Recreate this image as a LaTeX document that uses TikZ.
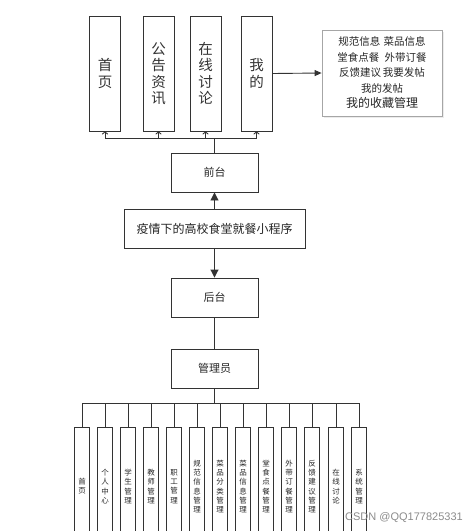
\documentclass[tikz,border=0pt]{standalone}
\usepackage{fontspec}
\setmainfont{Noto Sans CJK SC}
\newfontfamily\wmfont{Liberation Sans}
\usetikzlibrary{arrows.meta,shadows}
\begin{document}
\begin{tikzpicture}[x=1pt,y=-1pt]
\tikzset{
 box/.style={draw=black!80, line width=0.9pt, fill=white, inner sep=0pt},
 topbox/.style={box, minimum width=31pt, minimum height=115pt, font=\fontsize{14.5}{16.5}\selectfont, align=center, text=black!80},
 midbox/.style={box, minimum width=87pt, minimum height=39pt, font=\fontsize{11}{13}\selectfont, text=black!85},
 botbox/.style={box, minimum width=15pt, minimum height=118pt, anchor=north, font=\fontsize{7.5}{9.3}\selectfont, align=center, text=black!85},
 conn/.style={draw=black!80, line width=0.9pt},
 small/.style={-{To[length=3pt,width=6pt]}},
 big/.style={-{Triangle[length=8pt,width=8pt]}},
}
\useasboundingbox (0,0) rectangle (474,531);
\clip (0,0) rectangle (474,531);
\fill[white] (0,0) rectangle (474,531);
% top boxes
\node[topbox] (t1) at (105,73.5) {首\\页};
\node[topbox] (t2) at (158.5,73.5) {公\\告\\资\\讯};
\node[topbox] (t3) at (205.5,73.5) {在\\线\\讨\\论};
\node[topbox] (t4) at (256.5,73.5) {我\\的};
% right info box
\node[draw=black!35, line width=0.8pt, fill=white, minimum width=120pt, minimum height=86pt, align=center, inner sep=0pt,
  drop shadow={opacity=0.15, shadow xshift=1.5pt, shadow yshift=-1.5pt},
  font=\fontsize{10.5}{15.5}\selectfont, text=black!85] (info) at (382,73)
  {规范信息\,\,菜品信息\\堂食点餐\,\,\,外带订餐\\反馈建议\,我要发帖\\我的发帖\\{\fontsize{12}{16.5}\selectfont 我的收藏管理}};
% middle boxes
\node[midbox] (front) at (214.5,172.5) {前台};
\node[midbox, minimum width=181pt, font=\fontsize{12}{14}\selectfont] (main) at (214.5,228.5) {疫情下的高校食堂就餐小程序};
\node[midbox] (back) at (214.5,297.5) {后台};
\node[midbox] (admin) at (214.5,368.5) {管理员};
% top bus
\coordinate (tb) at (214.5,138);
\draw[conn] (front.north) -- (tb);
\draw[conn] (t1.south |- tb) -- (t4.south |- tb);
\foreach \n in {t1,t2,t3,t4} \draw[conn, small] (\n.south |- tb) -- (\n.south);
\draw[conn, -{Triangle[length=7pt,width=6pt]}] (t4.east) -- (info.west);
% main arrows
\draw[conn, big] (main.north) -- (front.south);
\draw[conn, big] (main.south) -- (back.north);
\draw[conn] (back.south) -- (admin.north);
% bottom boxes
\coordinate (bb) at (214.5,403);
\def\bt{427}
\node[botbox] (b1) at (82,\bt) {首\\页};
\node[botbox] (b2) at (105,\bt) {个\\人\\中\\心};
\node[botbox] (b3) at (128,\bt) {学\\生\\管\\理};
\node[botbox] (b4) at (151,\bt) {教\\师\\管\\理};
\node[botbox] (b5) at (174,\bt) {职\\工\\管\\理};
\node[botbox] (b6) at (197,\bt) {规\\范\\信\\息\\管\\理};
\node[botbox] (b7) at (220,\bt) {菜\\品\\分\\类\\管\\理};
\node[botbox] (b8) at (243,\bt) {菜\\品\\信\\息\\管\\理};
\node[botbox] (b9) at (266,\bt) {堂\\食\\点\\餐\\管\\理};
\node[botbox] (b10) at (289,\bt) {外\\带\\订\\餐\\管\\理};
\node[botbox] (b11) at (312,\bt) {反\\馈\\建\\议\\管\\理};
\node[botbox] (b12) at (336,\bt) {在\\线\\讨\\论};
\node[botbox] (b13) at (359,\bt) {系\\统\\管\\理};
\draw[conn] (admin.south) -- (bb);
\draw[conn] (b1.north |- bb) -- (b13.north |- bb);
\foreach \n in {b1,b2,b3,b4,b5,b6,b7,b8,b9,b10,b11,b12,b13} \draw[conn] (\n.north |- bb) -- (\n.north);
% watermark
\node[text=black!45, font=\wmfont\fontsize{11}{13}\selectfont] (wm) at (404,518) {CSDN @QQ177825331};
\end{tikzpicture}
\end{document}
